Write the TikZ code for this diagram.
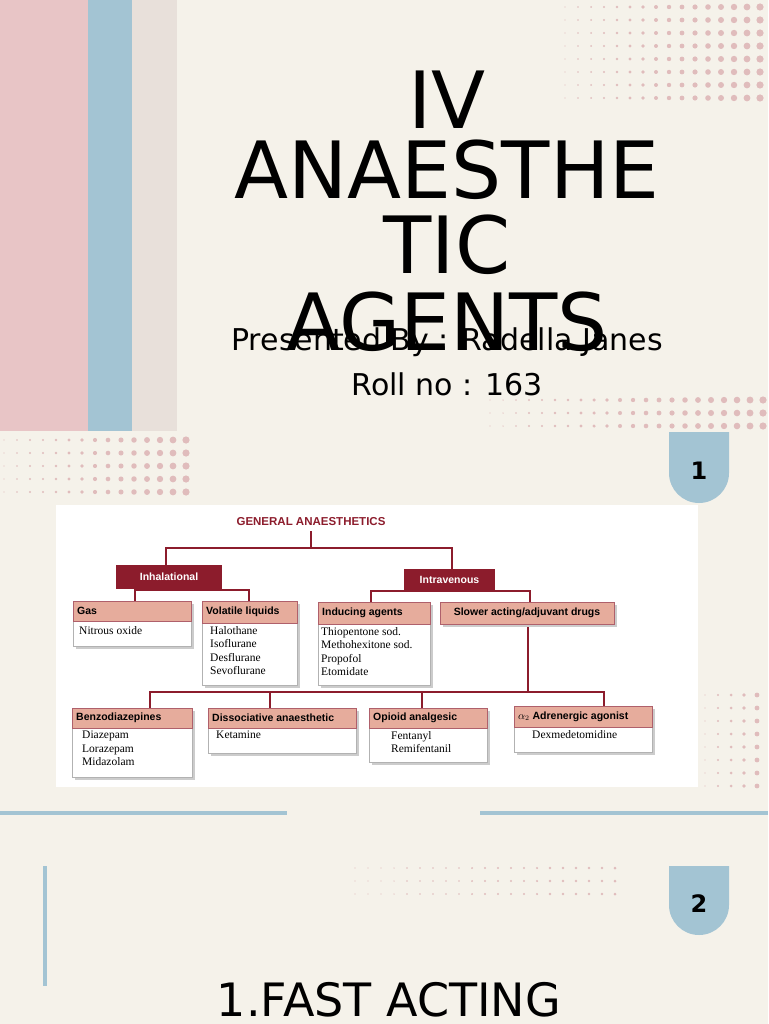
\documentclass[tikz,border=0pt]{standalone}
\usepackage{fontspec}
\setmainfont{DejaVu Sans}
\newfontfamily\hd{Liberation Sans}
\newfontfamily\bd{Liberation Serif}
\definecolor{bg}{HTML}{F5F2EA}
\definecolor{pk}{HTML}{E8C5C6}
\definecolor{bl}{HTML}{A3C4D3}
\definecolor{be}{HTML}{E8E0DA}
\definecolor{dr}{HTML}{8C1C2C}
\definecolor{sal}{HTML}{E6AC9C}
\definecolor{dot}{HTML}{E0BCBC}
\tikzset{
 link/.style={draw=dr,line width=1.6pt},
 mainbox/.style={fill=dr,text=white,font=\hd\bfseries\fontsize{10.5}{12}\selectfont},
 bodybox/.style={draw=gray!60,fill=white,line width=0.6pt},
 bodytxt/.style={font=\bd\fontsize{11.5}{13.5}\selectfont,anchor=north west,align=left,inner sep=0pt},
 tab/.style={fill=bl},
}
\newcommand{\dotgrid}[6]{% x0 y0 nx ny step maxr
 \foreach \i in {0,...,#3}{\foreach \j in {0,...,#4}{
  \fill[dot] ({#1+\i*#5},{#2+\j*#5}) circle ({0.6+#6*\i/#3});}}}
\begin{document}
\begin{tikzpicture}[x=1pt,y=-1pt]
\useasboundingbox (0,0) rectangle (768,1024);
\fill[bg] (0,0) rectangle (768,1024);
\fill[pk] (0,0) rectangle (88,431);
\fill[bl] (88,0) rectangle (132,431);
\fill[be] (132,0) rectangle (177,431);
% dots
\dotgrid{565}{7}{15}{7}{13}{3}
\dotgrid{490}{400}{21}{2}{13}{3}
\dotgrid{4}{440}{14}{4}{13}{3}
\dotgrid{705}{695}{4}{7}{13}{1.8}
\dotgrid{355}{868}{20}{2}{13}{0.9}
% title
\node (t1) at (447,100) {\fontsize{79}{79}\selectfont IV};
\node (t2) at (447,170) {\fontsize{79}{79}\selectfont ANAESTHE};
\node (t3) at (447,245) {\fontsize{79}{79}\selectfont TIC};
\node (t4) at (447,322) {\fontsize{79}{79}\selectfont AGENTS};
\node (st) at (447,342) {\fontsize{30}{30}\selectfont Presented By : Radella Janes};
\node (rn) at (447,384) {\fontsize{30}{30}\selectfont Roll no : 163};
% tabs
\fill[tab] (669,432) -- (669,473) arc (180:0:30) -- (729,432) -- cycle;
\node[font=\bfseries\fontsize{24}{24}\selectfont] (n1) at (699,471) {1};
\fill[tab] (669,866) -- (669,905) arc (180:0:30) -- (729,866) -- cycle;
\node[font=\bfseries\fontsize{24}{24}\selectfont] (n2) at (699,904) {2};
% lines
\fill[bl] (0,811) rectangle (287,815);
\fill[bl] (480,811) rectangle (768,815);
\fill[bl] (43,866) rectangle (47,986);
\node (fa) at (389,1000) {\fontsize{46}{46}\selectfont 1.FAST ACTING};
% diagram
\fill[white] (56,505) rectangle (698,787);
\node[text=dr,font=\hd\bfseries\fontsize{11.5}{13}\selectfont] (ga) at (311,522) {GENERAL ANAESTHETICS};
\draw[link] (311,531) -- (311,548);
\draw[link] (166,565) -- (166,548) -- (452,548) -- (452,569);
\node[mainbox,minimum width=106,minimum height=24] (inh) at (169,577) {Inhalational};
\node[mainbox,minimum width=91,minimum height=23] (iv) at (449.5,580) {Intravenous};
\draw[link] (inh.south) -- (169,590);
\draw[link] (135,601) -- (135,590) -- (249,590) -- (249,601);
\draw[link] (iv.south) -- (449.5,591) (371,602) -- (371,591) -- (530,591) -- (530,602);
\draw[link] (528,624) -- (528,692);
\draw[link] (150,708) -- (150,692) -- (604,692) -- (604,706);
\draw[link] (270,692) -- (270,708) (422,692) -- (422,708);
\newcommand{\bx}[7]{%
 \fill[gray!40] (#1+3,#3+3) rectangle (#2+3,#5+3);
 \draw[bodybox] (#1,#4) rectangle (#2,#5);
 \draw[draw=dr!70,line width=0.6pt,fill=sal] (#1,#3) rectangle (#2,#4);
 \node[font=\hd\bfseries\fontsize{10.5}{12}\selectfont,anchor=west,inner sep=2pt] (#6) at (#1+2,{(#3+#4)/2}) {#7};}
\bx{73}{191}{601}{621}{646}{gas}{Gas}
\node[bodytxt] (gasb) at (79,626) {Nitrous oxide};
\bx{202}{297}{601}{623}{685}{vol}{Volatile liquids}
\node[bodytxt] (volb) at (210,626) {Halothane\\Isoflurane\\Desflurane\\Sevoflurane};
\bx{318}{430}{602}{624}{685}{ind}{Inducing agents}
\node[bodytxt] (indb) at (321,627) {Thiopentone sod.\\Methohexitone sod.\\Propofol\\Etomidate};
\fill[gray!40] (443,605) rectangle (617,627);
\draw[draw=dr!70,line width=0.6pt,fill=sal] (440,602) rectangle (614,624);
\node[font=\hd\bfseries\fontsize{10.5}{12}\selectfont] (slw) at (527,613) {Slower acting/adjuvant drugs};
\bx{72}{192}{708}{728}{777}{bz}{Benzodiazepines}
\node[bodytxt] (bzb) at (82,731) {Diazepam\\Lorazepam\\Midazolam};
\bx{208}{356}{708}{728}{753}{dis}{Dissociative anaesthetic}
\node[bodytxt] (disb) at (216,731) {Ketamine};
\bx{369}{487}{708}{728}{762}{op}{Opioid analgesic}
\node[bodytxt] (opb) at (391,731) {Fentanyl\\Remifentanil};
\bx{514}{652}{706}{727}{752}{al}{$\alpha_2$ Adrenergic agonist}
\node[bodytxt] (alb) at (532,730) {Dexmedetomidine};
\end{tikzpicture}
\end{document}
